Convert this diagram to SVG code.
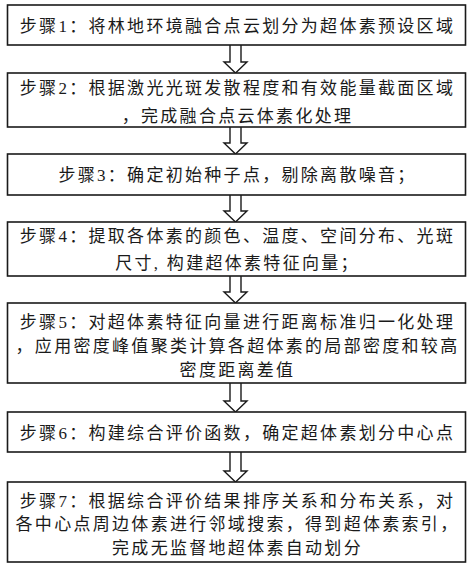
<svg xmlns="http://www.w3.org/2000/svg" width="474" height="568" viewBox="0 0 474 568">
<style>
.box{fill:#fff;stroke:#1a1a1a;stroke-width:1.6}
.arr{fill:#fff;stroke:#1a1a1a;stroke-width:1.4;stroke-linejoin:miter}
text{font-family:"Liberation Serif","Noto Sans CJK SC",serif;font-size:17px;fill:#1a1a1a;letter-spacing:2.3px;text-anchor:middle}
</style>
<rect width="474" height="568" fill="#fff"/>
<g id="connectors">
<path class="arr" d="M230,45 V62 H224 L235.5,73 L247,62 H241 V45"/>
<path class="arr" d="M230,127 V143 H224 L235.5,154 L247,143 H241 V127"/>
<path class="arr" d="M230,195 V211 H224 L235.5,222 L247,211 H241 V195"/>
<path class="arr" d="M230,276 V292 H224 L235.5,303 L247,292 H241 V276"/>
<path class="arr" d="M230,383 V401 H224 L235.5,412 L247,401 H241 V383"/>
<path class="arr" d="M230,452 V471 H224 L235.5,482 L247,471 H241 V452"/>
</g>
<g id="step1">
<rect class="box" x="7.5" y="5" width="458" height="40"/>
<text x="237.5" y="31.5">步骤1：将林地环境融合点云划分为超体素预设区域</text>
</g>
<g id="step2">
<rect class="box" x="7.5" y="73" width="458" height="54"/>
<text x="237.5" y="93.5">步骤2：根据激光光斑发散程度和有效能量截面区域</text>
<text x="237.5" y="121.5">，完成融合点云体素化处理</text>
</g>
<g id="step3">
<rect class="box" x="7.5" y="154" width="458" height="41"/>
<text x="237.5" y="181">步骤3：确定初始种子点，剔除离散噪音；</text>
</g>
<g id="step4">
<rect class="box" x="7.5" y="222" width="458" height="54"/>
<text x="237.5" y="241.5">步骤4：提取各体素的颜色、温度、空间分布、光斑</text>
<text x="237.5" y="269">尺寸, 构建超体素特征向量；</text>
</g>
<g id="step5">
<rect class="box" x="7.5" y="303" width="458" height="80"/>
<text x="237.5" y="327.5">步骤5：对超体素特征向量进行距离标准归一化处理</text>
<text x="237.5" y="351.5">，应用密度峰值聚类计算各超体素的局部密度和较高</text>
<text x="237.5" y="375.5">密度距离差值</text>
</g>
<g id="step6">
<rect class="box" x="7.5" y="412" width="458" height="40"/>
<text x="237.5" y="438.5">步骤6：构建综合评价函数，确定超体素划分中心点</text>
</g>
<g id="step7">
<rect class="box" x="7.5" y="482" width="458" height="80"/>
<text x="237.5" y="506.5">步骤7：根据综合评价结果排序关系和分布关系，对</text>
<text x="237.5" y="530">各中心点周边体素进行邻域搜索，得到超体素索引，</text>
<text x="237.5" y="553.5">完成无监督地超体素自动划分</text>
</g>
</svg>
